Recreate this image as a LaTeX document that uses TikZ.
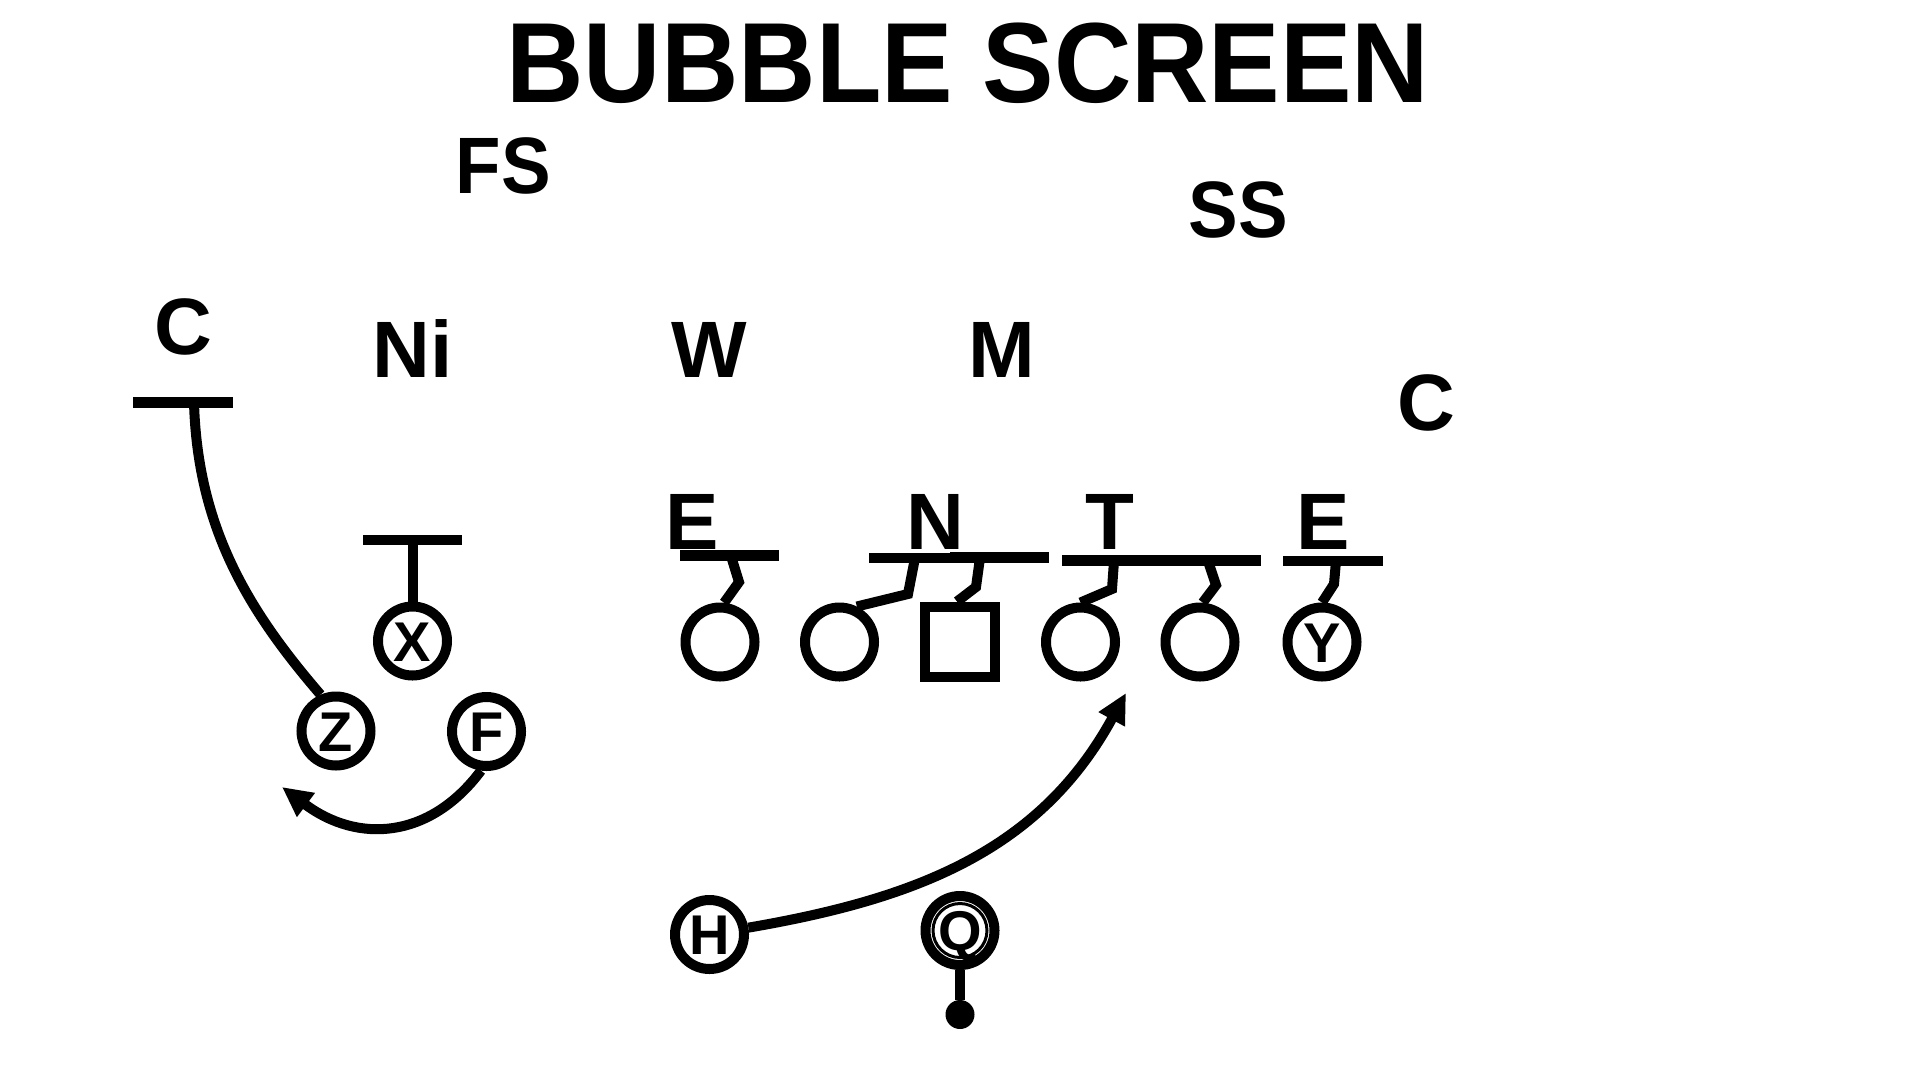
\documentclass[tikz,border=0pt]{standalone}
\usepackage{fontspec}
\usepackage{graphicx}
\setmainfont{Liberation Sans}
\usetikzlibrary{arrows.meta}
\begin{document}
\begin{tikzpicture}[x=1pt,y=-1pt,
  player/.style={circle,draw,line width=10pt,minimum size=69pt,inner sep=0pt,
    text height=40pt,text depth=0pt,font=\fontsize{56}{56}\selectfont\bfseries},
  center/.style={rectangle,draw,line width=10pt,minimum width=70pt,minimum height=70pt,inner sep=0pt},
  lab/.style={anchor=base,inner sep=0pt,font=\fontsize{80}{80}\selectfont\bfseries},
  bar/.style={line width=10.5pt},
  lnk/.style={line width=10pt},
  route/.style={line width=10pt,-{Triangle[length=30pt,width=28pt]}}]
\fill[white] (0,0) rectangle (1920,1080);
\useasboundingbox (0,0) rectangle (1920,1080);

% title
\node[anchor=base,inner sep=0pt,font=\fontsize{114}{114}\selectfont\bfseries] (title) at (968,102) {\scalebox{0.94}[1]{BUBBLE SCREEN}};

% defenders labels
\node[lab] (fs) at (503.5,193) {\scalebox{0.93}[1]{FS}};
\node[lab] (ss) at (1238,237) {\scalebox{0.93}[1]{SS}};
\node[lab] (cl) at (183,354) {C};
\node[lab] (cr) at (1426,430) {C};
\node[lab] (ni) at (412.5,377) {Ni};
\node[lab] (w) at (709.5,377) {W};
\node[lab] (m) at (1002,377) {M};
\node[lab] (el) at (692,549) {E};
\node[lab] (n) at (935,549) {N};
\node[lab] (t) at (1110,549) {T};
\node[lab] (er) at (1323,549) {E};

% offense
\node[player] (x) at (412.5,641) {X};
\node[player] (z) at (336,731) {Z};
\node[player] (f) at (486.5,731.5) {F};
\node[player] (ol1) at (720,642) {};
\node[player] (ol2) at (839.5,642) {};
\node[center] (sq) at (960,641.5) {};
\node[player] (ol3) at (1080.5,642) {};
\node[player] (ol4) at (1200,642) {};
\node[player] (y) at (1322,642) {Y};
\node[player] (h) at (709.5,934.5) {H};
\node[player] (q) at (960,930.5) {Q};
\draw[line width=3pt] (q.center) circle[radius=27pt];
\node[circle,fill,inner sep=0pt,minimum size=29pt] (qdot) at (960,1014.5) {};
\draw[lnk] (q.south) -- (qdot.north);

% bars
\coordinate (xb) at (412.5,540);
\draw[bar] (363,540) -- (462,540);
\draw[lnk] (xb) -- (x.north);

\coordinate (cb) at (194,402.5);
\draw[bar] (133,402.5) -- (233,402.5);
\draw[lnk] (cb) .. controls (197.6,528) and (248.5,611) .. (z.113);

\draw[bar] (680,555.5) -- (779,555.5);
\draw[bar] (869,558) -- (969,558);
\draw[bar] (950,557.5) -- (1049,557.5);
\draw[bar] (1062,560.5) -- (1162,560.5);
\draw[bar] (1161,560.5) -- (1261,560.5);
\draw[bar] (1283,561) -- (1383,561);

\coordinate (s1) at (731,556);  \coordinate (k1) at (739,582);
\coordinate (s2) at (915,558);  \coordinate (k2) at (908,594);
\coordinate (s3) at (980,558);  \coordinate (k3) at (976,587);
\coordinate (s4) at (1114,561); \coordinate (k4) at (1112,589);
\coordinate (s5) at (1208,561); \coordinate (k5) at (1216,585);
\coordinate (s6) at (1336,561); \coordinate (k6) at (1334,584);
\draw[lnk] (s1) -- (k1) -- (ol1.84);
\draw[lnk] (s2) -- (k2) -- (ol2.64);
\draw[lnk] (s3) -- (k3) -- ([xshift=-3pt]sq.north);
\draw[lnk] (s4) -- (k4) -- (ol3.90);
\draw[lnk] (s5) -- (k5) -- (ol4.86);
\draw[lnk] (s6) -- (k6) -- (y.90);

% routes
\coordinate (ftip) at (282,787);
\draw[route] (f.262) .. controls (430,839) and (358,844) .. (ftip);
\coordinate (htip) at (1126,693);
\draw[route] (h.10) .. controls (915,899) and (1039.6,851.4) .. (htip);
\end{tikzpicture}
\end{document}
